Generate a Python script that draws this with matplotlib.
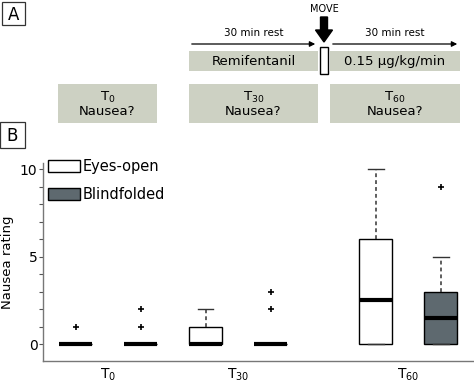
import matplotlib
matplotlib.use("Agg")
import matplotlib.pyplot as plt
from matplotlib.patches import Rectangle, Patch, FancyArrow
import numpy as np

# ---- data ----
groups = ["$\\mathrm{T}_{0}$", "$\\mathrm{T}_{30}$", "$\\mathrm{T}_{60}$"]
group_pos = [1.0, 2.0, 3.31]
series = ["Eyes-open", "Blindfolded"]
series_colors = ["white", "#5e696f"]

# per group, per series: (whislo, q1, med, q3, whishi, fliers)
eyes_open = [
    (0, 0, 0, 0, 0, [1]),
    (0, 0, 0, 1, 2, []),
    (0, 0, 2.5, 6, 10, []),
]
blindfolded = [
    (0, 0, 0, 0, 0, [1, 2]),
    (0, 0, 0, 0, 0, [2, 3]),
    (0, 0, 1.5, 3, 5, [9]),
]

timeline_boxes = ["$\\mathrm{T}_{0}$\nNausea?", "$\\mathrm{T}_{30}$\nNausea?", "$\\mathrm{T}_{60}$\nNausea?"]
drug_text = ["Remifentanil", "0.15 \u03bcg/kg/min"]
rest_text = "30 min rest"

W, H = 474, 386
fig = plt.figure(figsize=(W / 100, H / 100), dpi=100)
plt.rcParams['font.family'] = ['DejaVu Sans']

# ---- panel A: draw in pixel coordinates ----
axA = fig.add_axes([0, 0, 1, 1])
axA.set_xlim(0, W)
axA.set_ylim(H, 0)
axA.axis("off")
grey = "#cdd1c3"

# panel letters
for lab, (x0, y0, x1, y1) in [("A", (2, 2, 25, 25)), ("B", (0, 122, 25, 148))]:
    axA.add_patch(Rectangle((x0, y0), x1 - x0, y1 - y0, fill=False, ec="#333333", lw=0.9))
    axA.text((x0 + x1) / 2, (y0 + y1) / 2 + 1, lab, ha="center", va="center", fontsize=12)

# rest arrows
for xa, xb in [(189, 318), (330, 460)]:
    axA.annotate("", xy=(xb, 44), xytext=(xa, 44),
                 arrowprops=dict(arrowstyle="-|>", color="black", lw=0.9, mutation_scale=8))
    axA.text((xa + xb) / 2, 38, rest_text, ha="center", va="bottom", fontsize=7.5)

# drug bars
for (xa, xb), t in zip([(189, 318), (330, 460)], drug_text):
    axA.add_patch(Rectangle((xa, 51), xb - xa, 20, fc=grey, ec="none"))
    axA.text((xa + xb) / 2, 61.5, t, ha="center", va="center", fontsize=9.5)

# move marker
axA.add_patch(Rectangle((320, 47), 8, 27, fc="white", ec="black", lw=1))
axA.add_patch(FancyArrow(324, 17, 0, 25, width=7, head_width=17, head_length=12,
                         length_includes_head=True, fc="black", ec="black"))
axA.text(324, 9, "MOVE", ha="center", va="center", fontsize=7)

# nausea query boxes
for (xa, xb), t in zip([(58, 157), (189, 318), (330, 460)], timeline_boxes):
    axA.add_patch(Rectangle((xa, 84), xb - xa, 39, fc=grey, ec="none"))
    axA.text((xa + xb) / 2, 104, t, ha="center", va="center", fontsize=9.5, linespacing=1.0)

# ---- panel B: boxplots ----
left, right, bottom, top = 43, 474, 361, 163
axB = fig.add_axes([left / W, 1 - bottom / H, (right - left) / W, (bottom - top) / H])
off = 0.25
bw = 0.255

for k, (data, col) in enumerate(zip([eyes_open, blindfolded], series_colors)):
    stats = []
    pos = []
    for g, d in zip(group_pos, data):
        wl, q1, med, q3, wh, fl = d
        stats.append(dict(whislo=wl, q1=q1, med=med, q3=q3, whishi=wh, fliers=fl))
        pos.append(g - off if k == 0 else g + off)
    axB.bxp(stats, positions=pos, widths=bw, patch_artist=True, capwidths=bw * 0.48,
            boxprops=dict(facecolor=col, edgecolor="black", lw=1),
            medianprops=dict(color="black", lw=3, solid_capstyle="butt"),
            whiskerprops=dict(color="#333333", lw=1.1, linestyle=(0, (2.5, 2))),
            capprops=dict(color="#333333", lw=1),
            flierprops=dict(marker="+", markersize=4.5, markeredgecolor="black", markeredgewidth=1.2),
            manage_ticks=False)

axB.set_xlim(0.5, 3.815)
axB.set_ylim(-0.97, 10.35)
axB.set_yticks([0, 5, 10])
axB.set_yticks(np.arange(0, 11), minor=True)
axB.tick_params(axis="y", which="both", direction="out", length=3, width=0.8, colors="#555555",
                labelcolor="black", labelsize=10, pad=1)
axB.set_xticks(group_pos)
axB.set_xticklabels(groups, fontsize=10)
axB.tick_params(axis="x", length=0, pad=4)
for s in ["top", "right"]:
    axB.spines[s].set_visible(False)
for s in ["left", "bottom"]:
    axB.spines[s].set_color("#777777")
    axB.spines[s].set_linewidth(1)
axB.set_ylabel("Nausea rating", fontsize=9.5, labelpad=4)

handles = [Patch(fc=c, ec="black", lw=1) for c in series_colors]
fig.legend(handles, series, loc="upper left", bbox_to_anchor=(48 / W, 1 - 159 / H),
           frameon=False, fontsize=10.5, handlelength=2.2, handleheight=0.85,
           handletextpad=0.2, labelspacing=0.9, borderpad=0, borderaxespad=0)

fig.savefig("out.png", dpi=100)
